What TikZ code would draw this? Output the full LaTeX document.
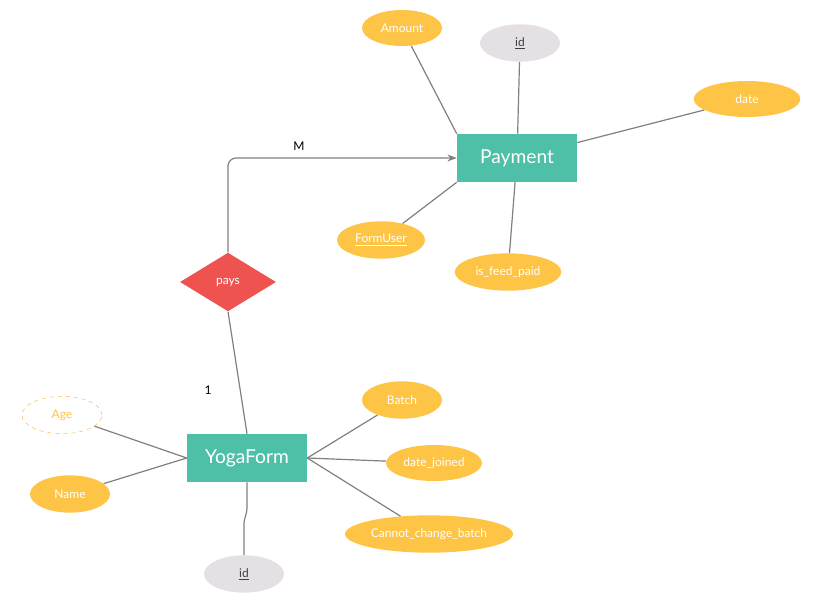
\documentclass[tikz,border=0pt]{standalone}
\usepackage{fontspec}
\setmainfont{Lato}
\usetikzlibrary{shapes.geometric,arrows.meta}
\definecolor{orng}{HTML}{FEC445}
\definecolor{teal}{HTML}{4FC0A8}
\definecolor{gry}{HTML}{E4E0E4}
\definecolor{redd}{HTML}{EF5350}
\definecolor{ln}{HTML}{808080}
\begin{document}
\begin{tikzpicture}[x=0.75pt,y=-0.75pt,
 attr/.style={ellipse,fill=orng,text=white,inner sep=0pt,font=\small},
 key/.style={ellipse,fill=gry,text=black!75,inner sep=0pt,font=\small},
 ent/.style={rectangle,fill=teal,text=white,minimum width=90pt,minimum height=36pt,font=\Large},
 conn/.style={draw=ln,line width=0.9pt}]
\useasboundingbox (0,0) rectangle (830,610);
\node[attr,minimum width=60pt,minimum height=27pt] (amount) at (402,28) {Amount};
\node[key,minimum width=60pt,minimum height=28pt] (pid) at (520,43) {\underline{id}};
\node[attr,minimum width=80pt,minimum height=27pt] (date) at (747,99) {date};
\node[ent] (pay) at (517,158) {Payment};
\node[attr,minimum width=66pt,minimum height=28pt] (fu) at (381,240) {\underline{FormUser}};
\node[attr,minimum width=80pt,minimum height=28pt] (ifp) at (508,272) {is\_feed\_paid};
\node[diamond,fill=redd,text=white,minimum width=72pt,minimum height=44pt,inner sep=0pt,font=\small] (pays) at (228,282) {pays};
\node[font=\small] (m) at (299,146) {M};
\node[font=\small] (one) at (208,390) {1};
\node[ent] (yf) at (247,458) {YogaForm};
\node[ellipse,draw=orng,dashed,fill=white,text=orng,inner sep=0pt,font=\small,minimum width=60pt,minimum height=28pt] (age) at (62,415) {Age};
\node[attr,minimum width=60pt,minimum height=28pt] (name) at (70,494) {Name};
\node[attr,minimum width=60pt,minimum height=28pt] (batch) at (402,400) {Batch};
\node[attr,minimum width=72pt,minimum height=27pt] (dj) at (434,463) {date\_joined};
\node[attr,minimum width=126pt,minimum height=28pt] (ccb) at (429,534) {Cannot\_change\_batch};
\node[key,minimum width=60pt,minimum height=28pt] (yid) at (244,574) {\underline{id}};
\draw[conn] (amount) -- (pay.north west);
\draw[conn] (pid) -- (pay);
\draw[conn] (date) -- (pay);
\draw[conn] (fu) -- (pay.south west);
\draw[conn] (ifp) -- (pay);
\draw[conn,-{Stealth[length=7pt]},rounded corners=6pt] (pays.north) -- (228,158) -- (pay.west);
\draw[conn] (pays.south) -- (yf.north);
\draw[conn] (age) -- (yf.west);
\draw[conn] (name) -- (yf.west);
\draw[conn] (batch) -- (yf.east);
\draw[conn] (dj) -- (yf.east);
\draw[conn] (ccb) -- (yf.east);
\draw[conn,rounded corners=3pt] (yf.south) -- (247,512) -- (244,520) -- (yid.north);
\end{tikzpicture}
\end{document}
